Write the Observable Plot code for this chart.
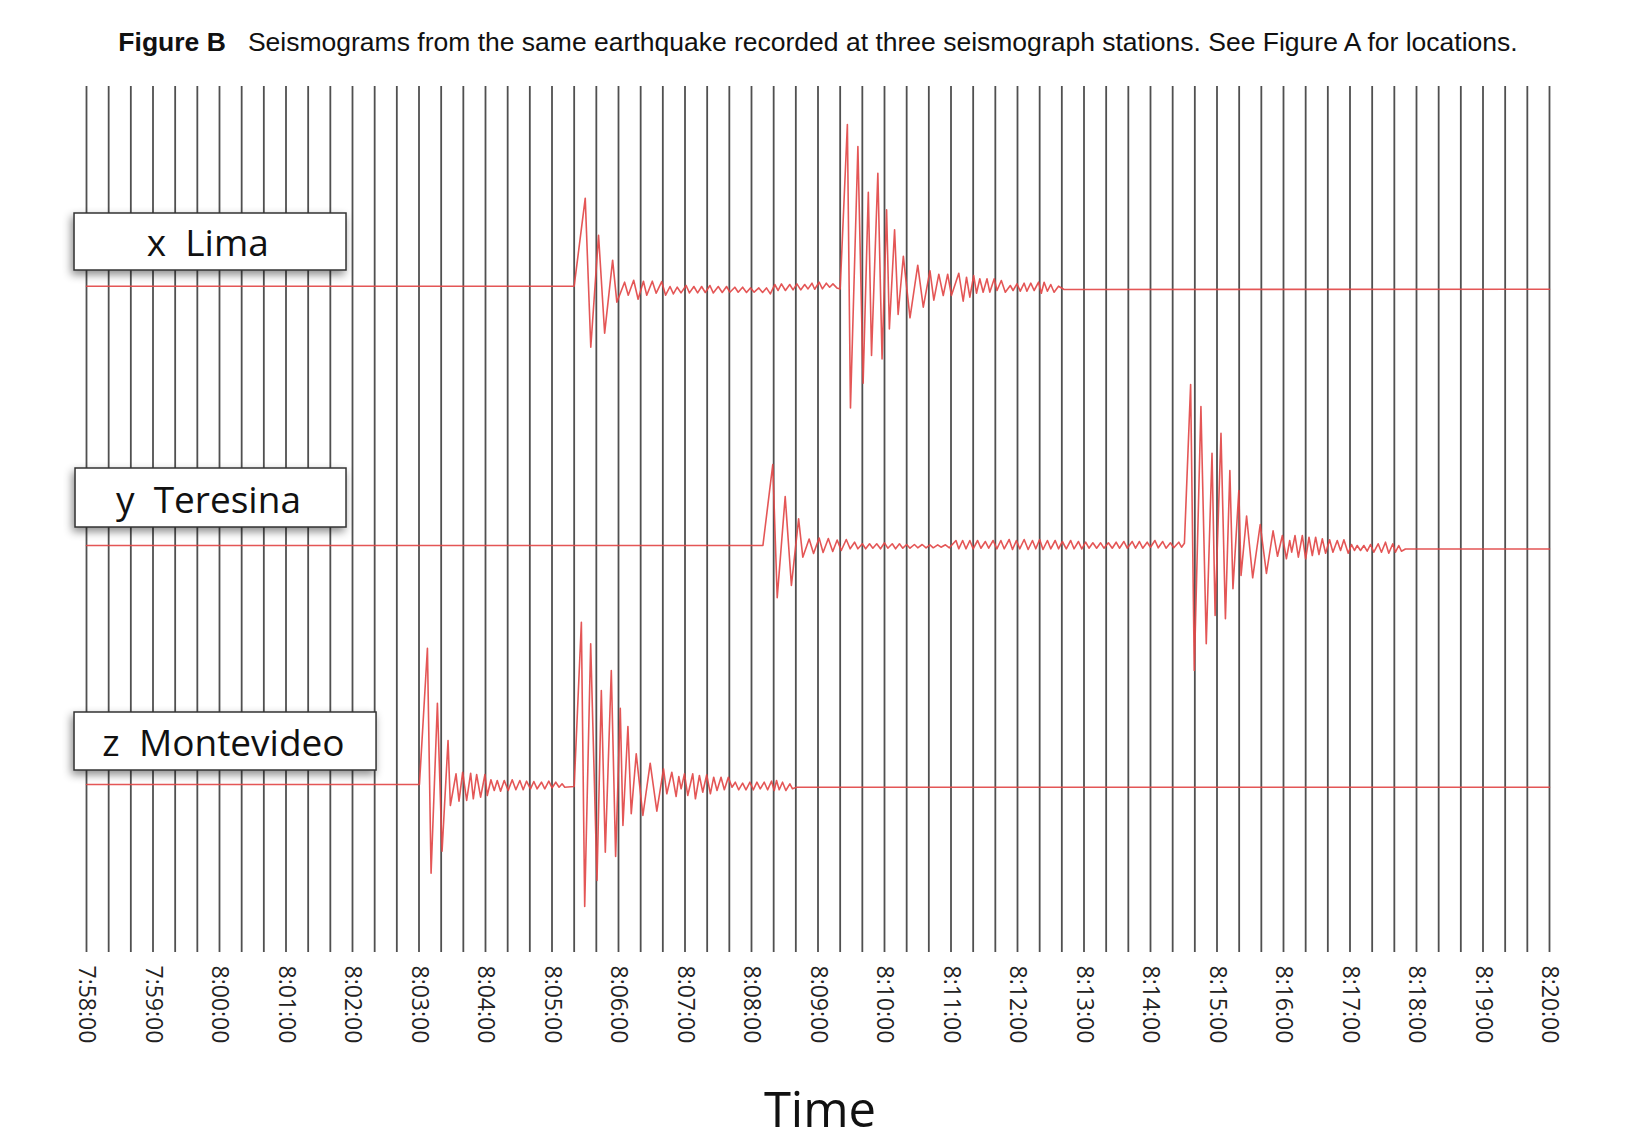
<!DOCTYPE html>
<html>
<head>
<meta charset="utf-8">
<script src="https://cdn.jsdelivr.net/npm/d3@7"></script>
<script src="https://cdn.jsdelivr.net/npm/@observablehq/plot@0.6"></script>
<style>
html, body { margin: 0; padding: 0; background: #fff; }
#wrap { position: relative; width: 1628px; height: 1142px; background: #fff; }
#title { position: absolute; left: 4px; top: 29px; width: 1628px; text-align: center; font-family: "Liberation Sans", Arial, sans-serif; font-size: 26.5px; line-height: 27px; color: #111; white-space: pre; }
#chart { position: absolute; left: 0; top: 72px; }
#chart g[aria-label="rect"] { filter: drop-shadow(-2px 4px 4px rgba(0,0,0,0.45)); }
#chart g[aria-label="text"] text { white-space: pre; }
</style>
</head>
<body>
<div id="wrap">
  <div id="title"><b>Figure B</b>   Seismograms from the same earthquake recorded at three seismograph stations. See Figure A for locations.</div>
  <div id="chart"></div>
</div>
<script>
// ---- Data: seconds after 7:58:00, amplitude (up = positive) ----
const stationNames = ["Lima", "Teresina", "Montevideo"];
const stationLabels = ["x  Lima", "y  Teresina", "z  Montevideo"];
const xAxisLabel = "Time";

const lima = [
  [0,0],[440,0],[450,88],[455,-61],[462,51],[467.5,-47],[474.7,26],[478.5,-16],[485.5,4],[488.8,-9],[493.7,6],[497.7,-13],
  [502.5,5],[505.5,-9],[510.5,5],[514,-7],[519,4.5],[522.5,-9],[526.5,-0.3],[529.5,-7.7],[533,-1],[536.4,-6.7],[541,0.7],
  [544,-6.7],[548,-0.3],[551.4,-6.7],[555,-0.3],[558.3,-6.3],[562.5,0.7],[565.5,-6.7],[570,-0.3],[573.6,-6.3],[577.5,-0.3],
  [580.5,-6],[585,-1],[588,-6],[592,-1],[595.5,-6.3],[599,-1.7],[602.4,-6],[606.6,-1.7],[610,-6.3],[613.5,-1.7],[617,-7.7],
  [621,1.7],[624,-4.3],[627,2.3],[630.6,-4.3],[634.5,1.7],[637.5,-3.7],[641,2.3],[644.4,-3.7],[648,1.7],[651,-2.7],[654.6,3],
  [657,-3],[661,4],[664,-2.7],[667.5,3],[670.5,-1],[673.5,2.3],[677,-1.7],[680,-2.7],
  [686.5,161.7],[689.3,-121.7],[696,139.7],[700.7,-97],[705.4,94],[708.3,-69.3],[714,113],[717.8,-72.7],[721.9,76.3],
  [724.4,-42.7],[729.1,56.3],[732.3,-28.3],[737,30],[743,-31.6],[750,21],[755,-21],[761,15.5],[764.5,-14],[769,12],
  [773,-9.3],[777,12],[780.4,-9.3],[787,13],[791,-15],[794,9],[797,-11],[800.5,10.7],[803,-7],[806,7.4],[809,-6],
  [812.5,7.4],[815,-6],[819,7.4],[821.5,-4.3],[825.4,5.7],[829,-6],[833.5,0.7],[836,-4.3],[839.5,2.4],[842.5,-5],
  [846,3],[848.5,-5],[852,3],[855,-4.3],[859,4],[861.5,-7],[864,4],[867,-5],[870,1.7],[873,-6],[877,0],[882,-3.3],[1320,-3]
];

const teresina = [
  [0,0],[610.3,0],[619.2,81],[623.2,-52.3],[630.4,49],[636,-40],[642.5,26.7],[646.3,-11.7],[652,6.5],[656,-8],[661,7.5],
  [664.6,-7],[669.3,7],[673.3,-6],[677.3,5.5],[681,-5],[685.5,6],[689,-3.3],[693,3.3],[696,-3.3],[700,1.7],[703,-3.3],
  [706.5,1.7],[709.5,-2.7],[713,1.7],[716.4,-3.3],[720,2.7],[723,-2.7],[727,1.7],[730,-3.3],[733.5,1.7],[736.5,-2.7],
  [740,1],[743,-2.7],[747,1],[750,-2.3],[754,1],[757.5,-2.3],[761,0.7],[764,-2.3],[768,0.7],[771,-1.7],[775,0.7],
  [778.5,-2.3],[784.5,5],[787,-3.3],[790.5,5],[793.5,-3.3],[797,5],[800,-3.3],[804,5],[807,-2.7],[811,4],[814,-2.7],
  [818,5],[821.4,-3.3],[825,5],[828,-3.3],[832.5,6],[835.5,-4],[839,5],[842,-3.3],[846,6],[849.6,-4],[853.5,5],
  [856.5,-3.3],[860,6],[863,-4],[867,5],[870,-3.3],[874,5],[877,-3.3],[880.5,4],[884,-3.3],[888,5],[891,-3.3],[895,4],
  [898,-3.3],[901.5,3.3],[904.5,-2.7],[908,2.7],[911.4,-2.7],[915,2.7],[918,-2.7],[922,2.7],[925.5,-2.7],[929,3.3],
  [932,-2.7],[936,4],[939,-2.7],[943.5,4],[946.5,-2.7],[950,4],[953,-2.7],[957,3.3],[960,-1.7],[964,5],[967,-2.3],
  [971,4],[974,-2.7],[978,2.7],[981,-2.3],[985.5,3.3],[988,-1.7],[990.6,2.3],
  [996.2,161],[999.5,-125],[1005.5,139],[1010.3,-98.3],[1015.5,92.3],[1018.3,-70],[1023.6,112.3],[1027.6,-73.3],
  [1031.6,75],[1034.4,-43.3],[1039.7,55],[1041.7,-30],[1046.7,29.5],[1052.2,-32.3],[1059,21],[1064.6,-28],[1070.6,14.7],
  [1074.6,-10.8],[1079,10],[1082.6,-13.3],[1085.6,5],[1087.4,-6.7],[1090.4,10],[1093.4,-11.7],[1097,10],[1100,-13.3],
  [1103,8.3],[1106,-10],[1109,8.3],[1112,-9],[1115,6.7],[1118,-7.7],[1121.6,5.7],[1124.6,-6.7],[1128.5,5],[1131.5,-5],
  [1134.5,5.7],[1138.4,-7.7],[1141.4,1],[1144,-5],[1146.5,0],[1149.5,-5],[1152.5,0],[1155.5,-5.7],[1158.5,1],
  [1161.5,-6.7],[1165.4,1.7],[1168.4,-6.7],[1172,3.3],[1175,-7.7],[1178.6,1.7],[1181,-6.7],[1184,0],[1186.4,-5.7],
  [1190,-3.5],[1320,-3.5]
];

const montevideo = [
  [0,0],[300.4,0],[307.6,136.3],[310.9,-88.7],[316.6,81.3],[320.8,-66.7],[326.2,44],[328.3,-21],[333.4,10.7],[336.1,-16.7],
  [339.4,12.3],[343,-16],[346.6,11.3],[349,-14.3],[352,10],[355.6,-12.7],[359.5,10],[361.6,-11],[364.9,4.7],[367.9,-6],
  [370.6,4],[373.6,-6.7],[376.9,4],[380.5,-6],[384.1,4.7],[387.4,-5.3],[391,4],[394,-5.3],[397,3.3],[400.6,-4.3],
  [403.6,3],[406.6,-4.3],[410.5,2.3],[413.5,-4.3],[417.1,3.3],[420.1,-3.3],[423.4,2.3],[426.4,-2.7],[429.1,0.7],
  [431.5,-2.7],[440,-2],
  [446.5,162.3],[449.5,-122],[454.9,140.7],[460.6,-96],[464.5,94],[468.1,-67.7],[473.5,114],[477.4,-72],[481.6,76.3],
  [484,-41],[488.5,58],[491.5,-29.3],[496,30.7],[502,-31],[508.6,21.3],[514.6,-26.7],[520.6,15.7],[523.6,-9.3],
  [528.1,12.3],[532,-12],[534.4,8],[536.5,-4.3],[539.5,10.7],[542.5,-11],[547,10.7],[549.4,-14.3],[553,9],[556,-7.7],
  [559.6,9.7],[562.9,-9.3],[565.9,7.3],[568.9,-6],[572.5,7.3],[575.5,-5.3],[579.1,7.3],[582.4,-2.7],[585.4,2.3],
  [588.4,-5.3],[592,1.3],[595,-5.3],[598.6,2.3],[601.6,-5.3],[604.9,2.3],[607.9,-4.3],[611.5,2.3],[614.5,-5.3],
  [618.1,3.3],[620.5,-6],[622.6,4],[625,-5.3],[628,2.3],[631,-6],[634.6,0.7],[637,-4.3],[640.6,-2.7],[1320,-2.7]
];

const tickLabels = ["7:58:00","7:59:00","8:00:00","8:01:00","8:02:00","8:03:00","8:04:00","8:05:00","8:06:00","8:07:00",
  "8:08:00","8:09:00","8:10:00","8:11:00","8:12:00","8:13:00","8:14:00","8:15:00","8:16:00","8:17:00","8:18:00","8:19:00","8:20:00"];

// ---- Layout (not data) ----
const baselines = [666.3, 407, 168];          // vertical offset of each trace
const boxes = [                                // label box extents (x in s, y in trace units)
  {x1: -10.8, x2: 234.6, y1: 682, y2: 739, tx: 109.4, ty: 697},
  {x1: -9.9,  x2: 234.6, y1: 425, y2: 484, tx: 110,   ty: 440},
  {x1: -10.8, x2: 261.7, y1: 182, y2: 240, tx: 123.6, ty: 197}
];

const traces = [lima, teresina, montevideo];
const rows = traces.flatMap((tr, i) => tr.map(([t, a]) => ({station: stationNames[i], t, y: baselines[i] + a})));
const labelRows = boxes.map((b, i) => ({...b, label: stationLabels[i]}));
const gridTimes = d3.range(0, 1321, 20);
const tickTimes = tickLabels.map((_, i) => i * 60);

const chart = Plot.plot({
  width: 1628,
  height: 1070,
  marginLeft: 86,
  marginRight: 79,
  marginTop: 14,
  marginBottom: 190,
  x: {domain: [0, 1320]},
  y: {domain: [0, 866], axis: null},
  style: {background: "#fff", fontFamily: "Open Sans", overflow: "visible", color: "#222"},
  marks: [
    Plot.ruleX(gridTimes, {stroke: "#505050", strokeWidth: 1.8}),
    Plot.line(rows, {x: "t", y: "y", z: "station", stroke: "#e24848", strokeWidth: 1.6, strokeOpacity: 0.92, curve: "linear"}),
    Plot.axisX({ticks: tickTimes, tickFormat: (d) => tickLabels[Math.round(d / 60)], tickSize: 0, tickPadding: 13,
      tickRotate: 90, fontSize: 23, label: null, fill: "#222"}),
    Plot.text([xAxisLabel], {frameAnchor: "bottom", text: (d) => d, dy: 174, dx: 2, lineAnchor: "bottom",
      fontSize: 49, fill: "#111", fontFamily: "Open Sans"}),
    Plot.rect(labelRows, {x1: "x1", x2: "x2", y1: "y1", y2: "y2", fill: "#fff", stroke: "#333", strokeWidth: 1.5}),
    Plot.text(labelRows, {x: "tx", y: "ty", text: "label", fontSize: 37, lineAnchor: "bottom", fill: "#111", fontFamily: "Open Sans"})
  ]
});
document.getElementById("chart").appendChild(chart);
</script>
</body>
</html>
